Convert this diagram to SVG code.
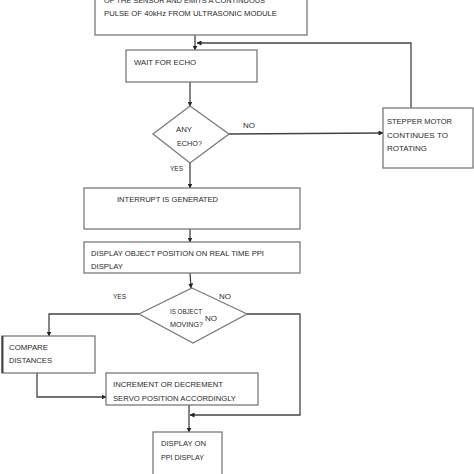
<svg xmlns="http://www.w3.org/2000/svg" width="474" height="474" viewBox="0 0 474 474">
<defs>
<marker id="ah" viewBox="0 0 10 10" refX="9" refY="5" markerWidth="5" markerHeight="5" orient="auto" markerUnits="userSpaceOnUse">
<path d="M0,0 L10,5 L0,10 z" fill="#222"/>
</marker>
<style>
.box{fill:#fff;stroke:#7a7a7a;stroke-width:1.3}
.t{font-family:"Liberation Sans","Open Sans",sans-serif;font-size:8px;fill:#2a2a2a}
.c{fill:none;stroke:#444;stroke-width:1.3}
.ca{fill:none;stroke:#444;stroke-width:1.3;marker-end:url(#ah)}
</style>
</defs>
<rect width="474" height="474" fill="#fff"/>
<g id="connectors">
<line class="ca" x1="195" y1="35" x2="195" y2="50"/>
<polyline class="ca" points="411,108 411,43 197,43"/>
<line class="ca" x1="190" y1="82" x2="190" y2="106"/>
<line class="ca" x1="229" y1="134" x2="383" y2="133"/>
<line class="ca" x1="190" y1="163" x2="190" y2="188"/>
<line class="ca" x1="190" y1="229" x2="190" y2="242"/>
<line class="ca" x1="190" y1="273" x2="191" y2="288"/>
<polyline class="ca" points="139,314 49,314 49,336"/>
<polyline class="ca" points="37,373 37,397 106,397"/>
<polyline class="ca" points="247,314 300,314 300,415 190,415"/>
<line class="ca" x1="189" y1="405" x2="189" y2="432"/>
</g>
<g id="start">
<rect class="box" x="95" y="-10" width="212" height="45"/>
<text class="t" x="104" y="3" textLength="161" lengthAdjust="spacingAndGlyphs">OF THE SENSOR AND EMITS A CONTINUOUS</text>
<text class="t" x="104" y="16" textLength="173" lengthAdjust="spacingAndGlyphs">PULSE OF 40kHz FROM ULTRASONIC MODULE</text>
</g>
<g id="wait">
<rect class="box" x="126" y="50" width="131" height="32"/>
<text class="t" x="134" y="65" textLength="62" lengthAdjust="spacingAndGlyphs">WAIT FOR ECHO</text>
</g>
<g id="anyecho">
<polygon class="box" points="190,106 229,134 190,163 153,134"/>
<text class="t" x="176" y="132" textLength="16" lengthAdjust="spacingAndGlyphs">ANY</text>
<text class="t" x="177" y="146" textLength="25" lengthAdjust="spacingAndGlyphs">ECHO?</text>
<text class="t" x="243" y="128" textLength="12" lengthAdjust="spacingAndGlyphs">NO</text>
<text class="t" x="170" y="171" textLength="13" lengthAdjust="spacingAndGlyphs">YES</text>
</g>
<g id="stepper">
<rect class="box" x="383" y="108" width="90" height="60"/>
<text class="t" x="387" y="124" textLength="65" lengthAdjust="spacingAndGlyphs">STEPPER MOTOR</text>
<text class="t" x="387" y="138" textLength="61" lengthAdjust="spacingAndGlyphs">CONTINUES TO</text>
<text class="t" x="387" y="151" textLength="40" lengthAdjust="spacingAndGlyphs">ROTATING</text>
</g>
<g id="interrupt">
<rect class="box" x="84" y="188" width="216" height="41"/>
<text class="t" x="117" y="202" textLength="101" lengthAdjust="spacingAndGlyphs">INTERRUPT IS GENERATED</text>
</g>
<g id="displayobj">
<rect class="box" x="84" y="242" width="216" height="31"/>
<text class="t" x="91" y="256" textLength="173" lengthAdjust="spacingAndGlyphs">DISPLAY OBJECT POSITION ON REAL TIME PPI</text>
<text class="t" x="91" y="269" textLength="32" lengthAdjust="spacingAndGlyphs">DISPLAY</text>
</g>
<g id="moving">
<polygon class="box" points="192,288 247,314 193,343 139,314"/>
<text class="t" x="170" y="314" textLength="32" lengthAdjust="spacingAndGlyphs">IS OBJECT</text>
<text class="t" x="170" y="327" textLength="33" lengthAdjust="spacingAndGlyphs">MOVING?</text>
<text class="t" x="205" y="321" textLength="12" lengthAdjust="spacingAndGlyphs">NO</text>
<text class="t" x="113" y="299" textLength="13" lengthAdjust="spacingAndGlyphs">YES</text>
<text class="t" x="219" y="299" textLength="12" lengthAdjust="spacingAndGlyphs">NO</text>
</g>
<g id="compare">
<rect class="box" x="2" y="336" width="93" height="37"/>
<line x1="2.5" y1="336" x2="2.5" y2="373" stroke="#444" stroke-width="2"/>
<text class="t" x="9" y="350" textLength="39" lengthAdjust="spacingAndGlyphs">COMPARE</text>
<text class="t" x="9" y="363" textLength="43" lengthAdjust="spacingAndGlyphs">DISTANCES</text>
</g>
<g id="increment">
<rect class="box" x="106" y="373" width="152" height="32"/>
<text class="t" x="113" y="387" textLength="110" lengthAdjust="spacingAndGlyphs">INCREMENT OR DECREMENT</text>
<text class="t" x="113" y="401" textLength="123" lengthAdjust="spacingAndGlyphs">SERVO POSITION ACCORDINGLY</text>
</g>
<g id="displayppi">
<rect class="box" x="153" y="432" width="69" height="50"/>
<text class="t" x="161" y="446" textLength="45" lengthAdjust="spacingAndGlyphs">DISPLAY ON</text>
<text class="t" x="161" y="460" textLength="43" lengthAdjust="spacingAndGlyphs">PPI DISPLAY</text>
</g>
</svg>
